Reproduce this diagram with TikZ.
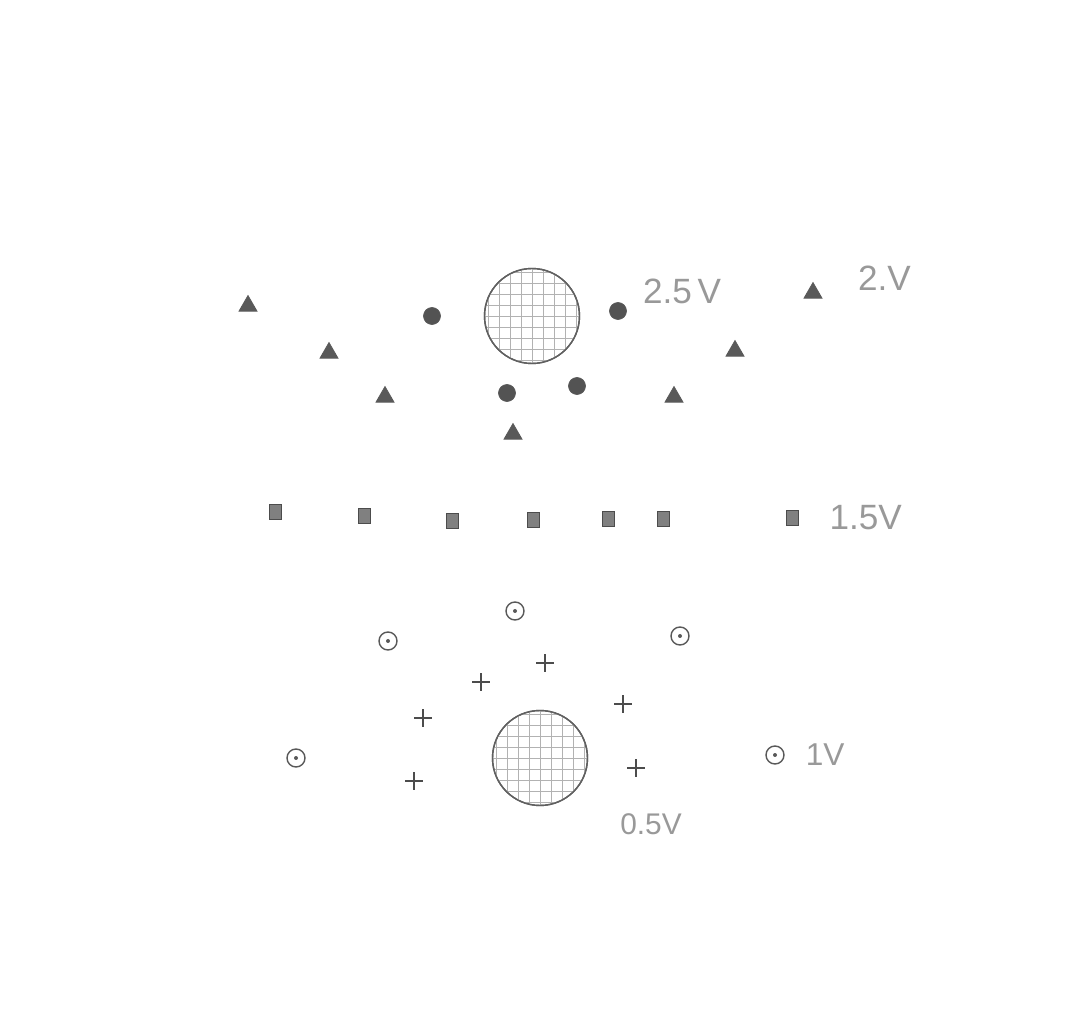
\documentclass[tikz,border=0pt]{standalone}
\usepackage{fontspec}
\setsansfont{Liberation Sans}
\usetikzlibrary{shapes.geometric, positioning}

\tikzset{
  tri/.style={regular polygon, regular polygon sides=3, fill=gray!70!black, draw=gray!70!black, inner sep=0pt, minimum size=4.2mm},
  blob/.style={circle, fill=gray!65!black, draw=gray!70!black, inner sep=0pt, minimum size=3.4mm},
  sq/.style={rectangle, fill=gray, draw=gray!60!black, inner sep=0pt, minimum width=2.4mm, minimum height=3mm},
  ring/.style={circle, draw=gray!70!black, thick, inner sep=0pt, minimum size=3.6mm, path picture={\fill[gray!70!black] (path picture bounding box.center) circle (0.4mm);}},
  cross/.style={inner sep=0pt, minimum size=3.6mm, path picture={\draw[gray!60!black, thick] (path picture bounding box.north) -- (path picture bounding box.south) (path picture bounding box.west) -- (path picture bounding box.east);}},
  volt/.style={font=\sffamily\fontsize{20}{24}\selectfont, text=gray!80},
  ball/.style={circle, draw=gray!75!black, thick, inner sep=0pt, minimum size=19mm}
}

\begin{document}
\begin{tikzpicture}[x=0.02cm, y=-0.02cm]
\useasboundingbox (0,0) rectangle (1080,1027);

% the two big hatched charges
\node[ball] (top) at (532,316) {};
\node[ball] (bot) at (540,758) {};
\foreach \ch in {top, bot} {
  \begin{scope}
    \clip (\ch.center) circle (9.4mm);
    \foreach \d in {-44,-33,...,44} {
      \draw[gray!60] ([xshift=\d*0.02cm]\ch.north) ++(0,-10) -- ++(0,120);
      \draw[gray!60] ([yshift=\d*0.02cm]\ch.west) ++(-10,0) -- ++(120,0);
    }
  \end{scope}
  \node[ball] at (\ch) {};
}

% 2 V
\node[tri] (t1) at (248,306) {};
\node[tri] (t2) at (329,353) {};
\node[tri] (t3) at (385,397) {};
\node[tri] (t4) at (513,434) {};
\node[tri] (t5) at (674,397) {};
\node[tri] (t6) at (735,351) {};
\node[tri] (t7) at (813,293) {};

% 2.5 V
\node[blob] (b1) at (432,316) {};
\node[blob] (b2) at (507,393) {};
\node[blob] (b3) at (577,386) {};
\node[blob] (b4) at (618,311) {};

% 1.5 V
\node[sq] (s1) at (275,512) {};
\node[sq] (s2) at (364,516) {};
\node[sq] (s3) at (452,521) {};
\node[sq] (s4) at (533,520) {};
\node[sq] (s5) at (608,519) {};
\node[sq] (s6) at (663,519) {};
\node[sq] (s7) at (792,518) {};

% 1 V
\node[ring] (r1) at (515,611) {};
\node[ring] (r2) at (388,641) {};
\node[ring] (r3) at (680,636) {};
\node[ring] (r4) at (296,758) {};
\node[ring] (r5) at (775,755) {};

% 0.5 V
\node[cross] (p1) at (481,682) {};
\node[cross] (p2) at (545,663) {};
\node[cross] (p3) at (423,718) {};
\node[cross] (p4) at (623,704) {};
\node[cross] (p5) at (414,781) {};
\node[cross] (p6) at (636,768) {};

% labels
\node[volt, right=2mm of b4, yshift=4mm] (l25) {2.5\,V};
\node[volt, right=6.5mm of t7, yshift=3mm] (l2) {2.V};
\node[volt, right=5mm of s7] (l15) {1.5V};
\node[volt, font=\sffamily\fontsize{18}{22}\selectfont, right=3mm of r5] (l1) {1V};
\node[volt, font=\sffamily\fontsize{17}{20}\selectfont, below=6mm of p6, xshift=3mm] (l05) {0.5V};
\end{tikzpicture}
\end{document}
